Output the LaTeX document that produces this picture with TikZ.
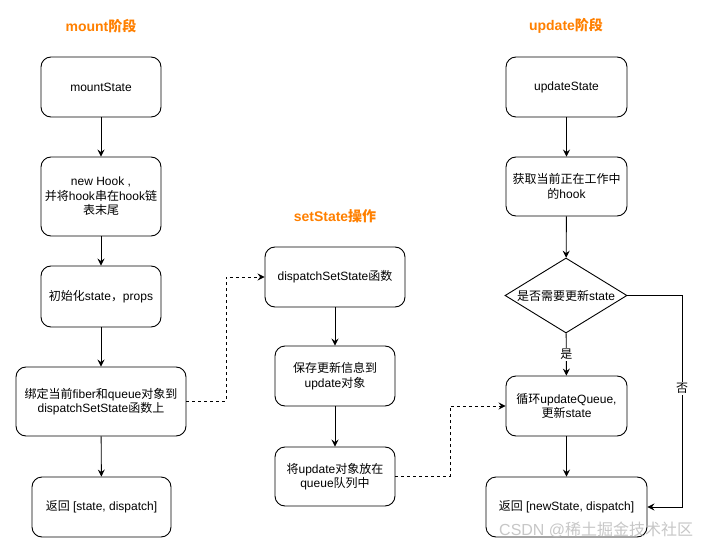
\documentclass[tikz,border=0pt]{standalone}
\usepackage{fontspec}
\setmainfont{Liberation Sans}
\newfontfamily\cjk{Noto Sans CJK SC}
\newcommand\zh[1]{{\cjk #1}}
\usetikzlibrary{arrows.meta,shapes.geometric}
\definecolor{titleorange}{RGB}{255,128,0}
\tikzset{
  box/.style={draw=black,line width=0.9pt,rounded corners=10pt,fill=white,
    align=center,inner sep=0pt,font=\fontsize{12}{14.5}\selectfont},
  decision/.style={draw=black,line width=0.9pt,diamond,aspect=1.63,fill=white,
    align=center,inner sep=0pt,font=\fontsize{12}{14.5}\selectfont},
  phase/.style={font=\fontsize{14}{16}\selectfont\bfseries,text=titleorange},
  flow/.style={draw=black,line width=0.9pt,-{Stealth[length=7pt,width=7pt,inset=2.5pt]}},
  dflow/.style={flow,dash pattern=on 3pt off 3pt},
  lbl/.style={fill=white,inner sep=1pt,font=\fontsize{12}{14}\selectfont},
}
\begin{document}
\begin{tikzpicture}[x=1pt,y=-1pt]
\useasboundingbox[fill=white] (0,0) rectangle (706,553);

% titles
\node[phase] (tm) at (101,26) {mount\zh{阶段}};
\node[phase] (ts) at (335,216) {setState\zh{操作}};
\node[phase] (tu) at (566,26) {update\zh{阶段}};

% mount column
\node[box,minimum width=120pt,minimum height=60pt] (m1) at (101,87) {mountState};
\node[box,minimum width=120pt,minimum height=79pt] (m2) at (101,196.5) {new Hook ,\\\zh{并将}hook\zh{串在}hook\zh{链}\\\zh{表末尾}};
\node[box,minimum width=120pt,minimum height=61pt] (m3) at (101,296.5) {\zh{初始化}state\zh{，}props};
\node[box,minimum width=170pt,minimum height=69pt] (m4) at (101,401.5) {\zh{绑定当前}fiber\zh{和}queue\zh{对象到}\\dispatchSetState\zh{函数上}};
\node[box,minimum width=139pt,minimum height=60pt] (m5) at (101.5,507) {\zh{返回} [state, dispatch]};

% setState column
\node[box,minimum width=140pt,minimum height=60pt] (s1) at (335,277) {dispatchSetState\zh{函数}};
\node[box,minimum width=120pt,minimum height=60pt] (s2) at (335,376) {\zh{保存更新信息到}\\update\zh{对象}};
\node[box,minimum width=120pt,minimum height=59pt] (s3) at (335,476.5) {\zh{将}update\zh{对象放在}\\queue\zh{队列中}};

% update column
\node[box,minimum width=121pt,minimum height=60pt] (u1) at (566.5,87) {updateState};
\node[box,minimum width=121pt,minimum height=59pt] (u2) at (566.5,186.5) {\zh{获取当前正在工作中}\\\zh{的}hook};
\node[decision,minimum width=122pt,minimum height=75pt] (d) at (566,295.5) {\zh{是否需要更新}state};
\node[box,minimum width=121pt,minimum height=60pt] (u3) at (566.5,406) {\zh{循环}updateQueue,\\\zh{更新}state};
\node[box,minimum width=161pt,minimum height=60pt] (u4) at (566.5,507) {\zh{返回} [newState, dispatch]};

\coordinate (c1) at (226,401.5);
\coordinate (c2) at (226,277);
\coordinate (c3) at (450,476.5);
\coordinate (c4) at (450,406);
\coordinate (c5) at (682,295.5);
\coordinate (c6) at (682,507);

% arrows
\draw[flow] (m1) -- (m2);
\draw[flow] (m2) -- (m3);
\draw[flow] (m3) -- (m4);
\draw[flow] (m4) -- (m5);
\draw[flow] (s1) -- (s2);
\draw[flow] (s2) -- (s3);
\draw[flow] (u1) -- (u2);
\draw[flow] (u2) -- (d);
\draw[flow] (d) -- node[lbl] (yes) {\zh{是}} (u3);
\draw[flow] (u3) -- (u4);
\draw[flow] (d.east) -- (c5) -- node[lbl,pos=0.44] (no) {\zh{否}} (c6) -- (u4.east);
\draw[dflow] (m4.east) -- (c1) -- (c2) -- (s1.west);
\draw[dflow] (s3.east) -- (c3) -- (c4) -- (u3.west);

% watermark
\node[anchor=base west,inner sep=0pt,text=gray!55,opacity=0.8,font=\fontsize{16}{18}\selectfont] (wm) at (499,535) {CSDN @\zh{稀土掘金技术社区}};
\end{tikzpicture}
\end{document}
